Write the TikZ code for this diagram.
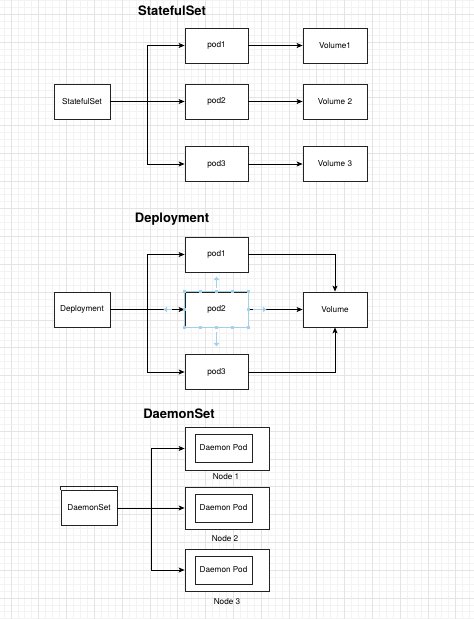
\documentclass[tikz,border=0pt]{standalone}
\usepackage{fontspec}
\setmainfont{TeX Gyre Heros}
\usetikzlibrary{arrows,arrows.meta,calc}
\definecolor{line_gray}{RGB}{35,35,35}
\definecolor{grid_minor}{RGB}{243,243,243}
\definecolor{grid_major}{RGB}{228,228,228}
\definecolor{sel_blue}{RGB}{165,208,236}

\begin{document}
\begin{tikzpicture}[x=1pt,y=-1pt,->,>={Stealth[length=6pt,width=5pt,inset=1.5pt]},line width=0.8pt]
    \tikzstyle{box}=[draw=line_gray, rectangle, minimum height=35pt, inner sep=0pt, fill=white, text=black, font=\fontsize{8.2}{10}\selectfont, -]
    \tikzstyle{title}=[font=\bfseries\fontsize{13}{15}\selectfont, text=black]
    \tikzstyle{lbl}=[font=\fontsize{8.2}{10}\selectfont, text=black]
    \tikzstyle{grid}=[-, line width=0.5pt]

    % background and grid
    \fill[white] (0,0) rectangle (474,619);
    \useasboundingbox (0,0) rectangle (474,619);
    \foreach \i in {0,...,68} \draw[grid, grid_minor] ({3.85+6.95*\i},0) -- ++(0,619);
    \foreach \i in {0,...,89} \draw[grid, grid_minor] (0,{0.1+6.95*\i}) -- ++(474,0);
    \foreach \i in {0,...,16} \draw[grid, grid_major] ({10.8+27.8*\i},0) -- ++(0,619);
    \foreach \i in {0,...,21} \draw[grid, grid_major] (0,{14+27.8*\i}) -- ++(474,0);

    % StatefulSet
    \node[title] (t1) at (172,11) {StatefulSet};
    \node[box, minimum width=56pt] (ss) at (82,101.5) {StatefulSet};
    \node[box, minimum width=63pt] (sp1) at (216.5,45.5)  {pod1};
    \node[box, minimum width=63pt] (sp2) at (216.5,101.5) {pod2};
    \node[box, minimum width=63pt] (sp3) at (216.5,164)   {pod3};
    \node[box, minimum width=64pt] (sv1) at (335,45.5)  {Volume1};
    \node[box, minimum width=64pt] (sv2) at (335,101.5) {Volume 2};
    \node[box, minimum width=64pt] (sv3) at (335,164)   {Volume 3};
    \coordinate (sj) at (147,101.5);

    \draw[-] (ss) -- (sj);
    \draw (sj) |- (sp1);
    \draw (sj) -- (sp2);
    \draw (sj) |- (sp3);
    \path
     (sp1) edge (sv1)
     (sp2) edge (sv2)
     (sp3) edge (sv3)
     ;

    % Deployment
    \node[title] (t2) at (172,219) {Deployment};
    \node[box, minimum width=56pt] (dep) at (82,309.5) {Deployment};
    \node[box, minimum width=63pt] (dp1) at (216.5,254.5) {pod1};
    \node[box, minimum width=63pt] (dp2) at (216.5,309.5) {pod2};
    \node[box, minimum width=63pt] (dp3) at (216.5,372)   {pod3};
    \node[box, minimum width=64pt] (dvol) at (335,309.5) {Volume};
    \coordinate (dj) at (147,309.5);

    \draw[-] (dep) -- (dj);
    \draw (dj) |- (dp1);
    \draw (dj) -- (dp2);
    \draw (dj) |- (dp3);
    \draw (dp1) -| (dvol);
    \draw (dp3) -| (dvol);
    \path (dp2) edge (dvol);

    % selection marks on pod2
    \draw[-, sel_blue, line width=0.6pt] (dp2.north west) rectangle (dp2.south east);
%     \draw[-, sel_blue, dashed] (dp2.north west) rectangle (dp2.south east);
    \foreach \p in {north west,north,north east,east,south east,south,south west,west}
      \fill[sel_blue] ($(dp2.\p)+(-1.3,-1.3)$) rectangle ++(2.6,2.6);
    \foreach \f in {0.25,0.75} {
      \fill[sel_blue] ($(dp2.north west)!\f!(dp2.north east)+(-1.3,-1.3)$) rectangle ++(2.6,2.6);
      \fill[sel_blue] ($(dp2.south west)!\f!(dp2.south east)+(-1.3,-1.3)$) rectangle ++(2.6,2.6);
    }
    \tikzstyle{hover}=[sel_blue, line width=1.6pt, -{Triangle[length=3.5pt,width=5.5pt]}]
    \draw[hover] ($(dp2.north)+(0,-4)$) -- ++(0,-11);
    \draw[hover] ($(dp2.south)+(0,5)$)  -- ++(0,14);
    \draw[hover] ($(dp2.west)+(-13,0)$) -- ++(-8,0);
    \draw[hover] ($(dp2.east)+(5,0)$)   -- ++(13,0);

    % DaemonSet
    \node[title] (t3) at (179,414) {DaemonSet};
    \node[box, minimum width=56pt, minimum height=34.3pt] (ds) at (89,508) {DaemonSet};
    \draw[-, line_gray] (ds.north west) -- ++(0,-4) -| (ds.north east);

    \node[box, minimum width=84pt, minimum height=43pt] (n1) at (227,448.5) {};
    \node[box, minimum width=57pt, minimum height=28pt] (dpod1) at (223.5,448) {Daemon Pod};
    \node[lbl] (l1) at (226,477) {Node 1};
    \node[box, minimum width=84pt, minimum height=42pt] (n2) at (227,508) {};
    \node[box, minimum width=57pt, minimum height=28pt] (dpod2) at (223.5,508) {Daemon Pod};
    \node[lbl] (l2) at (225,539) {Node 2};
    \node[box, minimum width=84pt, minimum height=42pt] (n3) at (227,570) {};
    \node[box, minimum width=57pt, minimum height=28pt] (dpod3) at (223.5,570) {Daemon Pod};
    \node[lbl] (l3) at (227,602) {Node 3};
    \coordinate (dsj) at (151,508);

    \draw[-] (ds) -- (dsj);
    \draw (dsj) |- (n1);
    \draw (dsj) -- (n2);
    \draw (dsj) |- (n3);
\end{tikzpicture}
\end{document}
